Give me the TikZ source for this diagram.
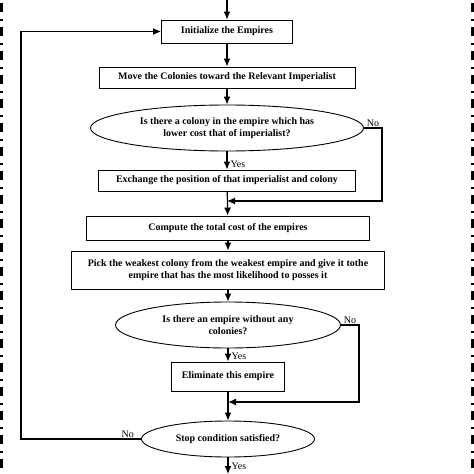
\documentclass[tikz,border=0pt]{standalone}
\usepackage{fontspec}
\setmainfont{Liberation Serif}
\usetikzlibrary{shapes.geometric, arrows.meta, positioning}

\begin{document}
\begin{tikzpicture}[x=1pt, y=-1pt, >={Latex[length=8pt,width=7pt]}, line width=1.2pt,
  box/.style={draw, rectangle, line width=0.9pt, inner sep=0pt, align=center,
    font=\bfseries\fontsize{10}{12.5}\selectfont},
  test/.style={draw, ellipse, line width=0.9pt, inner sep=0pt, align=center,
    font=\bfseries\fontsize{10}{12.5}\selectfont},
  lbl/.style={inner sep=1pt, font=\fontsize{10}{10}\selectfont},
  edge/.style={line width=2.8pt, dash pattern=on 9pt off 7pt on 2pt off 6pt}]
  \useasboundingbox (0,0) rectangle (474,474);
  \draw[edge] (1.2,3) -- (1.2,474);
  \draw[edge] (472.5,3) -- (472.5,474);

  \node[box, minimum width=131pt, minimum height=23pt] (init) at (227,31.5) {Initialize the Empires};
  \node[box, minimum width=256pt, minimum height=21pt] (move) at (227,77.5) {Move the Colonies toward the Relevant Imperialist};
  \node[test, minimum width=273pt, minimum height=46pt] (q1) at (227,128) {Is there a colony in the empire which has\\lower cost that of imperialist?};
  \node[box, minimum width=257pt, minimum height=21pt] (exch) at (227,180.5) {Exchange the position of that imperialist and colony};
  \node[box, minimum width=283pt, minimum height=24pt] (comp) at (228,228) {Compute the total cost of the empires};
  \node[box, minimum width=313pt, minimum height=38pt] (pick) at (228,270) {Pick the weakest colony from the weakest empire and give it tothe\\empire that has the most likelihood to posses it};
  \node[test, minimum width=225pt, minimum height=46pt] (q2) at (228,325) {Is there an empire without any\\colonies?};
  \node[box, minimum width=113pt, minimum height=29pt] (elim) at (228,376.5) {Eliminate this empire};
  \node[test, minimum width=173pt, minimum height=36pt] (stop) at (228,439) {Stop condition satisfied?};

  \coordinate (start) at (227,0);
  \coordinate (m1) at (227,201);
  \coordinate (m2) at (228,402);
  \coordinate (back) at (21,439);
  \coordinate (end) at (228,474);

  \draw[->] (start) -- (init);
  \draw[->] (init) -- (move);
  \draw[->] (move) -- (q1);
  \draw[->] (q1) -- node[lbl, right, pos=0.7, xshift=2pt]{Yes} (exch);
  \draw[->] (exch) -- (comp);
  \draw[->] (q1.east) -- node[lbl, above]{No} ++(18,0) |- (m1);
  \draw[->] (comp) -- (pick);
  \draw[->] (pick) -- (q2);
  \draw[->] (q2) -- node[lbl, right, pos=0.6, xshift=2pt]{Yes} (elim);
  \draw[->] (elim) -- (stop);
  \draw[->] (q2.east) -- node[lbl, above]{No} ++(18,0) |- (m2);
  \draw[->] (stop.west) -- node[lbl, above, pos=0.11]{No} (back) |- (init.west);
  \draw[->] (stop) -- node[lbl, right, pos=0.55, xshift=2pt]{Yes} (end);
\end{tikzpicture}
\end{document}
